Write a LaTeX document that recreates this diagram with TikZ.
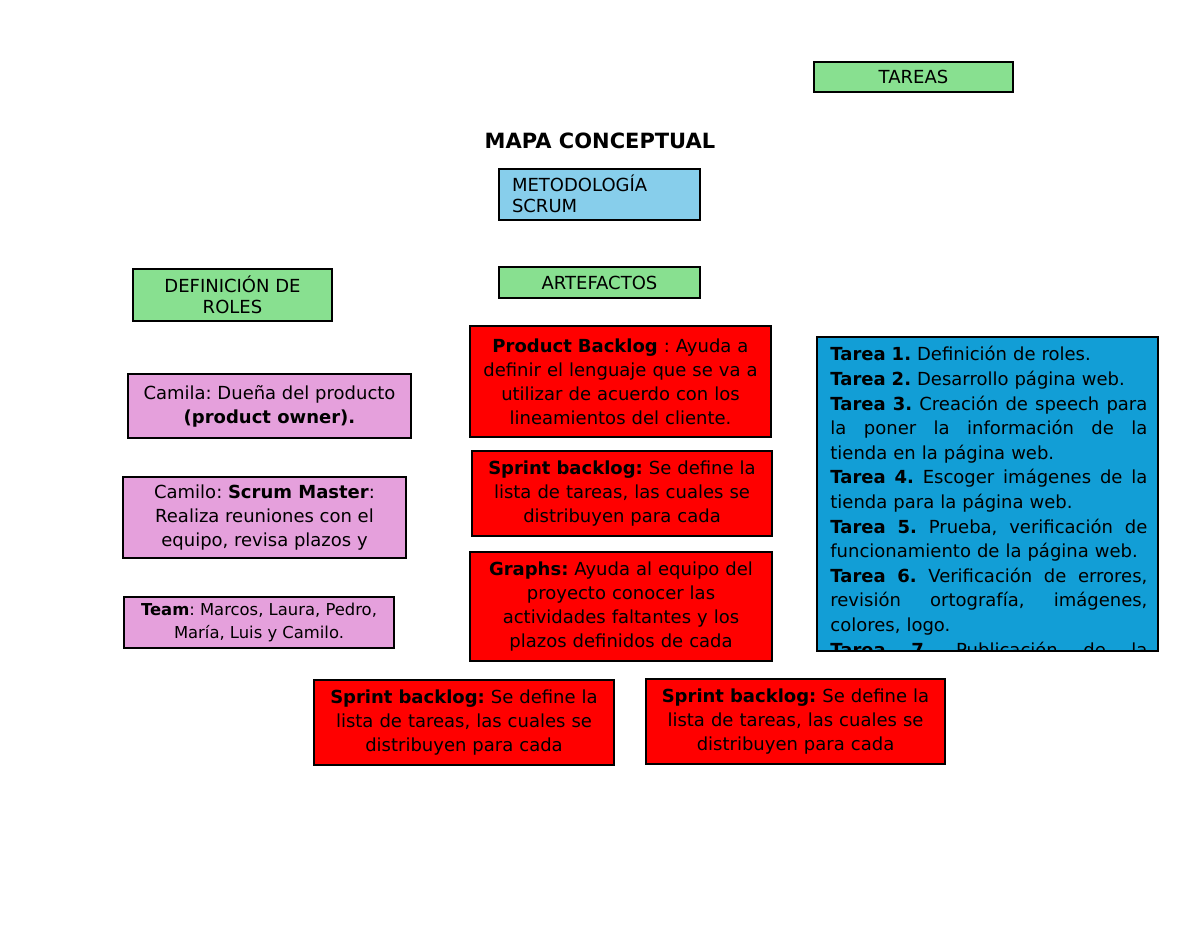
\documentclass[tikz,border=0pt]{standalone}
\usepackage{fontspec}
\setmainfont{DejaVu Sans}
\usepackage{xcolor}
\usepackage{tikz}
\frenchspacing

\definecolor{verde}{RGB}{136,224,144}
\definecolor{rosa}{RGB}{229,160,220}
\definecolor{celeste}{RGB}{135,206,235}
\definecolor{azul}{RGB}{18,158,214}
\definecolor{rojo}{RGB}{255,0,0}

\newlength{\anchotareas}
\setlength{\anchotareas}{158.5pt}
\newcommand{\lineaj}[1]{\makebox[\anchotareas][s]{\spaceskip=.318em plus 1fil\relax #1}\\}
\newcommand{\lineal}[1]{\makebox[\anchotareas][l]{#1}\\}

\begin{document}
\begin{tikzpicture}[x=0.5pt,y=-0.5pt,
    caja/.style={draw=black,line width=1pt,inner sep=0pt,align=center,font=\fontsize{9}{12}\selectfont},
    titulo/.style={caja,fill=verde,font=\fontsize{9}{10.5}\selectfont},
    rol/.style={caja,fill=rosa},
    artefacto/.style={caja,fill=rojo,text width=144pt}]
    \useasboundingbox[fill=white] (0,0) rectangle (1200,927);

    \node[titulo,minimum width=99.5pt,minimum height=15pt] (tareas) at (913.5,77) {TAREAS};
    \node[font=\fontsize{10.5}{12}\selectfont\bfseries] (mapa) at (600,141) {MAPA CONCEPTUAL};
    \node[caja,fill=celeste,align=left,text width=87.5pt,minimum width=100.5pt,minimum height=25.5pt,
        font=\fontsize{9}{10.5}\selectfont] (metodo) at (599.5,194) {METODOLOGÍA\\SCRUM};
    \node[titulo,minimum width=100.5pt,minimum height=15.5pt] (artefactos) at (599.5,282.5) {ARTEFACTOS};
    \node[titulo,minimum width=99.5pt,minimum height=26pt] (roles) at (232.5,295) {DEFINICIÓN DE\\ROLES};

    % roles
    \node[rol,minimum width=141.5pt,minimum height=32pt] (camila) at (269.5,406)
        {Camila: Dueña del producto\\\textbf{(product owner).}};
    \node[rol,minimum width=141.5pt,minimum height=40.5pt] (camilo) at (264.5,517.5)
        {Camilo: \textbf{Scrum Master}:\\Realiza reuniones con el\\equipo, revisa plazos y};
    \node[rol,minimum width=135pt,minimum height=25.5pt,font=\fontsize{8.2}{11.5}\selectfont] (team) at (259,622.5)
        {\textbf{Team}: Marcos, Laura, Pedro,\\María, Luis y Camilo.};

    % artefactos
    \node[artefacto,minimum width=150.5pt,minimum height=55.5pt] (pbacklog) at (620.5,381.5)
        {\textbf{Product Backlog} : Ayuda a\\definir el lenguaje que se va a\\utilizar de acuerdo con los\\lineamientos del cliente.};
    \node[artefacto,minimum width=150pt,minimum height=42.5pt] (sbacklog) at (622,493.5)
        {\textbf{Sprint backlog:} Se define la\\lista de tareas, las cuales se\\distribuyen para cada};
    \node[artefacto,minimum width=151pt,minimum height=54.5pt] (graphs) at (621,606.5)
        {\textbf{Graphs:} Ayuda al equipo del\\proyecto conocer las\\actividades faltantes y los\\plazos definidos de cada};
    \node[artefacto,minimum width=150pt,minimum height=42.5pt] (sbacklogizq) at (464,722.5)
        {\textbf{Sprint backlog:} Se define la\\lista de tareas, las cuales se\\distribuyen para cada};
    \node[artefacto,minimum width=149.5pt,minimum height=42.5pt] (sbacklogder) at (795.5,721.5)
        {\textbf{Sprint backlog:} Se define la\\lista de tareas, las cuales se\\distribuyen para cada};

    % lista de tareas
    \node[caja,fill=azul,minimum width=170.5pt,minimum height=157pt] (lista) at (987.5,494) {};
    \begin{scope}
        \clip ([shift={(1pt,-1pt)}]lista.north west) rectangle ([shift={(-1pt,1pt)}]lista.south east);
        \node[anchor=north west,inner sep=0pt,align=left,text width=\anchotareas,
            font=\fontsize{9}{12.3}\selectfont] (textolista) at (830,346) {%
            \lineal{\textbf{Tarea 1.} Definición de roles.}
            \lineal{\textbf{Tarea 2.} Desarrollo página web.}
            \lineaj{\textbf{Tarea 3.} Creación de speech para}
            \lineaj{la poner la información de la}
            \lineal{tienda en la página web.}
            \lineaj{\textbf{Tarea 4.} Escoger imágenes de la}
            \lineal{tienda para la página web.}
            \lineaj{\textbf{Tarea 5.} Prueba, verificación de}
            \lineal{funcionamiento de la página web.}
            \lineaj{\textbf{Tarea 6.} Verificación de errores,}
            \lineaj{revisión ortografía, imágenes,}
            \lineal{colores, logo.}
            \makebox[\anchotareas][s]{\spaceskip=.318em plus 1fil\relax\textbf{Tarea 7.} Publicación de la}};
    \end{scope}
\end{tikzpicture}
\end{document}
